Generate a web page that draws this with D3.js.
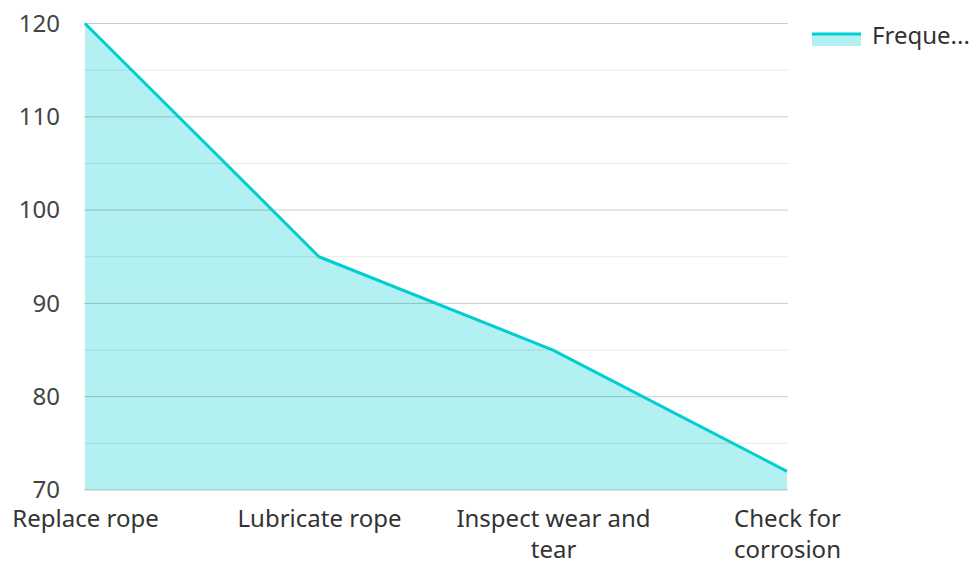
<!DOCTYPE html>
<html>
<head>
<meta charset="utf-8">
<script src="https://cdn.jsdelivr.net/npm/d3@7"></script>
<style>
  html, body { margin: 0; padding: 0; background: #fff; }
  svg { display: block; font-family: "Noto Sans", "Open Sans", sans-serif; }
</style>
</head>
<body>
<svg id="chart" width="974" height="562"></svg>
<script>
// Maintenance tasks and how often each is performed
const categories = ["Replace rope", "Lubricate rope", "Inspect wear and tear", "Check for corrosion"];
const frequency = [120, 95, 85, 72];
const seriesName = "Frequency";
const yTicks = [70, 80, 90, 100, 110, 120];
const yMinorTicks = [75, 85, 95, 105, 115];

const svg = d3.select("#chart");
const margin = { left: 85, right: 187, top: 23.5, bottom: 72 };
const width = 974, height = 562;
const lineColor = "#00CED1";
const fontFamily = "'Noto Sans', 'Open Sans', sans-serif";
const fontSize = 24;

const x = d3.scalePoint()
  .domain(categories)
  .range([margin.left, width - margin.right]);

const y = d3.scaleLinear()
  .domain([70, 120])
  .range([height - margin.bottom, margin.top]);

const data = categories.map((c, i) => ({ cat: c, val: frequency[i] }));

// Area under the line
const area = d3.area()
  .x(d => x(d.cat))
  .y0(y(70))
  .y1(d => y(d.val));

svg.append("path")
  .datum(data)
  .attr("d", area)
  .attr("fill", lineColor)
  .attr("fill-opacity", 0.3);

// Grid lines (drawn over the fill)
const gx0 = margin.left - 1, gx1 = width - margin.right + 1;
svg.append("g").selectAll("line")
  .data(yMinorTicks)
  .join("line")
  .attr("x1", gx0).attr("x2", gx1)
  .attr("y1", d => y(d)).attr("y2", d => y(d))
  .attr("stroke", "rgba(0,0,0,0.09)")
  .attr("stroke-width", 1);

svg.append("g").selectAll("line")
  .data(yTicks)
  .join("line")
  .attr("x1", gx0).attr("x2", gx1)
  .attr("y1", d => y(d)).attr("y2", d => y(d))
  .attr("stroke", "rgba(0,0,0,0.2)")
  .attr("stroke-width", 1);

// Series line
const line = d3.line()
  .x(d => x(d.cat))
  .y(d => y(d.val));

svg.append("path")
  .datum(data)
  .attr("d", line)
  .attr("fill", "none")
  .attr("stroke", lineColor)
  .attr("stroke-width", 3)
  .attr("stroke-linejoin", "round");

// Y axis labels
const yAxis = d3.axisLeft(y).tickValues(yTicks).tickSize(0).tickPadding(0);
const yg = svg.append("g")
  .attr("transform", `translate(${margin.left - 25},0)`)
  .call(yAxis)
  .attr("font-size", fontSize)
  .attr("font-family", fontFamily);
yg.select(".domain").remove();
yg.selectAll("text").attr("fill", "#444");

// X axis labels, wrapped to fit the band
const xAxis = d3.axisBottom(x).tickSize(0).tickPadding(0);
const xg = svg.append("g")
  .attr("transform", `translate(0,${y(70)})`)
  .call(xAxis)
  .attr("font-size", fontSize)
  .attr("font-family", fontFamily);
xg.select(".domain").remove();
xg.selectAll("text")
  .attr("fill", "#333")
  .attr("dy", null)
  .attr("y", 0)
  .each(function(d) {
    const t = d3.select(this);
    t.text(null);
    const maxW = 205;
    const words = d.split(" ");
    const lines = [];
    let cur = [];
    const probe = t.append("tspan");
    words.forEach(w => {
      const test = cur.concat(w).join(" ");
      probe.text(test);
      if (probe.node().getComputedTextLength() > maxW && cur.length) {
        lines.push(cur.join(" "));
        cur = [w];
      } else {
        cur.push(w);
      }
    });
    lines.push(cur.join(" "));
    probe.remove();
    lines.forEach((l, i) => {
      t.append("tspan")
        .attr("x", 0)
        .attr("y", 37 + i * 31)
        .text(l);
    });
  });

// Legend
const lg = svg.append("g").attr("transform", "translate(812,34)");
lg.append("rect")
  .attr("x", 0).attr("y", 0)
  .attr("width", 49).attr("height", 12)
  .attr("fill", lineColor).attr("fill-opacity", 0.3);
lg.append("line")
  .attr("x1", 0).attr("x2", 49)
  .attr("y1", 0).attr("y2", 0)
  .attr("stroke", lineColor).attr("stroke-width", 3);
lg.append("text")
  .attr("x", 60).attr("y", 10)
  .attr("font-size", fontSize)
  .attr("font-family", fontFamily)
  .attr("fill", "#333")
  .text(seriesName.slice(0, 6) + "...");
</script>
</body>
</html>
